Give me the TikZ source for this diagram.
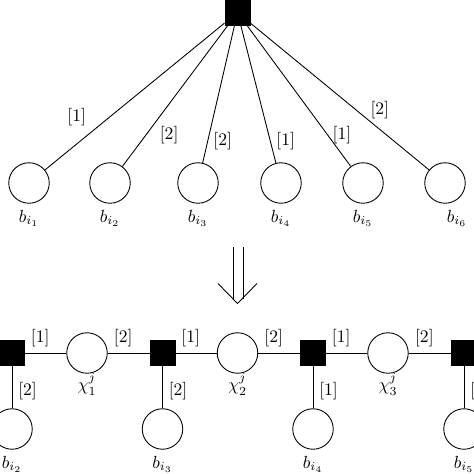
\documentclass[tikz,border=0pt]{standalone}
\begin{document}
\begin{tikzpicture}[x=0.02cm,y=-0.02cm,line width=0.5pt,
	var/.style={draw,circle,minimum size=0.81cm,inner sep=0pt},
	fac/.style={draw,fill=black,minimum size=0.5cm,inner sep=0pt},
	chilab/.style={label distance=-3.5pt}]
	\useasboundingbox (0,0) rectangle (474,474);
	\clip (0,0) rectangle (474,474);
	
	\node[fac] (f) at (237.5,12.5) {};
	\node[var,label=below:$b_{i_1}$] (b1) at (29,183) {};
	\node[var,label=below:$b_{i_2}$] (b2) at (110,183) {};
	\node[var,label=below:$b_{i_3}$] (b3) at (198,183) {};
	\node[var,label=below:$b_{i_4}$] (b4) at (281,183) {};
	\node[var,label=below:$b_{i_5}$] (b5) at (363,183) {};
	\node[var,label={[xshift=0.24cm]below:$b_{i_6}$}] (b6) at (445,183) {};
	
	\draw (f) edge node[pos=0.64,xshift=-0.66cm] {[1]} (b1);
	\draw (f) edge node[pos=0.775,xshift=0.46cm] {[2]} (b2);
	\draw (f) edge node[pos=0.84,xshift=0.30cm] {[2]} (b3);
	\draw (f) edge node[pos=0.84,xshift=0.31cm] {[1]} (b4);
	\draw (f) edge node[pos=0.775,xshift=0.29cm] {[1]} (b5);
	\draw (f) edge node[pos=0.59,xshift=0.48cm] {[2]} (b6);
	
	% the rewriting arrow
	\draw (233,247) -- (233,298.5);
	\draw (243,247) -- (243,298.5);
	\draw (218,283.5) -- (237.5,303.5) -- (257,283.5);
	
	\node[fac] (f1) at (12,353) {};
	\node[var,label={[chilab]below:$\chi^j_1$}] (x1) at (87,353) {};
	\node[fac] (f2) at (162.5,353) {};
	\node[var,label={[chilab]below:$\chi^j_2$}] (x2) at (237.5,353) {};
	\node[fac] (f3) at (313,353) {};
	\node[var,label={[chilab]below:$\chi^j_3$}] (x3) at (388,353) {};
	\node[fac] (f4) at (464,353) {};
	\node[var,label=below:$b_{i_2}$] (c2) at (12,429) {};
	\node[var,label=below:$b_{i_3}$] (c3) at (162.5,429) {};
	\node[var,label=below:$b_{i_4}$] (c4) at (313,429) {};
	\node[var,label=below:$b_{i_5}$] (c5) at (464,429) {};
	
	\draw (f1) edge node[pos=0.37,above] {[1]} (x1);
	\draw (x1) edge node[pos=0.37,above] {[2]} (f2);
	\draw (f2) edge node[pos=0.37,above] {[1]} (x2);
	\draw (x2) edge node[pos=0.37,above] {[2]} (f3);
	\draw (f3) edge node[pos=0.37,above] {[1]} (x3);
	\draw (x3) edge node[pos=0.37,above] {[2]} (f4);
	
	\draw (f1) edge node[pos=0.6,right] {[2]} (c2);
	\draw (f2) edge node[pos=0.6,right] {[2]} (c3);
	\draw (f3) edge node[pos=0.6,right] {[1]} (c4);
	\draw (f4) edge node[pos=0.6,right] {[1]} (c5);
\end{tikzpicture}
\end{document}
